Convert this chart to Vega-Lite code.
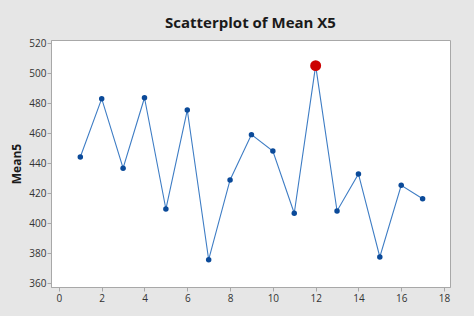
{
  "$schema": "https://vega.github.io/schema/vega-lite/v6.json",
  "width": 399,
  "height": 247,
  "autosize": {"type": "none"},
  "padding": {"left": 51, "top": 40, "right": 24, "bottom": 29},
  "background": "#e6e6e6",
  "title": {
    "text": "Scatterplot of Mean X5",
    "font": "Open Sans",
    "fontSize": 15,
    "fontWeight": "bold",
    "color": "#1a1a1a",
    "anchor": "middle",
    "offset": 7
  },
  "config": {
    "view": {"fill": "white", "stroke": "#a8a8a8", "strokeWidth": 1},
    "axis": {
      "labelFont": "Open Sans",
      "labelFontSize": 10,
      "labelColor": "#333333",
      "titleFont": "Open Sans",
      "titleFontSize": 12,
      "titleFontWeight": "bold",
      "titleColor": "#1a1a1a",
      "grid": false,
      "domainColor": "#a8a8a8",
      "tickColor": "#a8a8a8",
      "tickSize": 4
    }
  },
  "data": {
    "values": [
      {"Index": 1, "Mean5": 444.2},
      {"Index": 2, "Mean5": 483.1},
      {"Index": 3, "Mean5": 436.7},
      {"Index": 4, "Mean5": 483.7},
      {"Index": 5, "Mean5": 409.5},
      {"Index": 6, "Mean5": 475.5},
      {"Index": 7, "Mean5": 375.7},
      {"Index": 8, "Mean5": 428.9},
      {"Index": 9, "Mean5": 459.1},
      {"Index": 10, "Mean5": 448.2},
      {"Index": 11, "Mean5": 406.7},
      {"Index": 12, "Mean5": 505.1},
      {"Index": 13, "Mean5": 408.2},
      {"Index": 14, "Mean5": 432.9},
      {"Index": 15, "Mean5": 377.5},
      {"Index": 16, "Mean5": 425.3},
      {"Index": 17, "Mean5": 416.4}
    ]
  },
  "encoding": {
    "x": {
      "field": "Index",
      "type": "quantitative",
      "scale": {"domain": [-0.37, 18.28], "nice": false, "zero": false},
      "axis": {"values": [0, 2, 4, 6, 8, 10, 12, 14, 16, 18], "title": null, "labelPadding": 2}
    },
    "y": {
      "field": "Mean5",
      "type": "quantitative",
      "scale": {"domain": [357.5, 522.2], "nice": false, "zero": false},
      "axis": {"values": [360, 380, 400, 420, 440, 460, 480, 500, 520], "title": "Mean5", "labelPadding": 1, "titlePadding": 5}
    }
  },
  "layer": [
    {"mark": {"type": "line", "color": "#3d7cc4", "strokeWidth": 1.1}},
    {"mark": {"type": "point", "filled": true, "color": "#0b4a99", "size": 30, "opacity": 1}},
    {
      "transform": [{"filter": "datum.Index == 12"}],
      "mark": {"type": "point", "filled": true, "color": "#cc0000", "size": 120, "opacity": 1}
    }
  ]
}
